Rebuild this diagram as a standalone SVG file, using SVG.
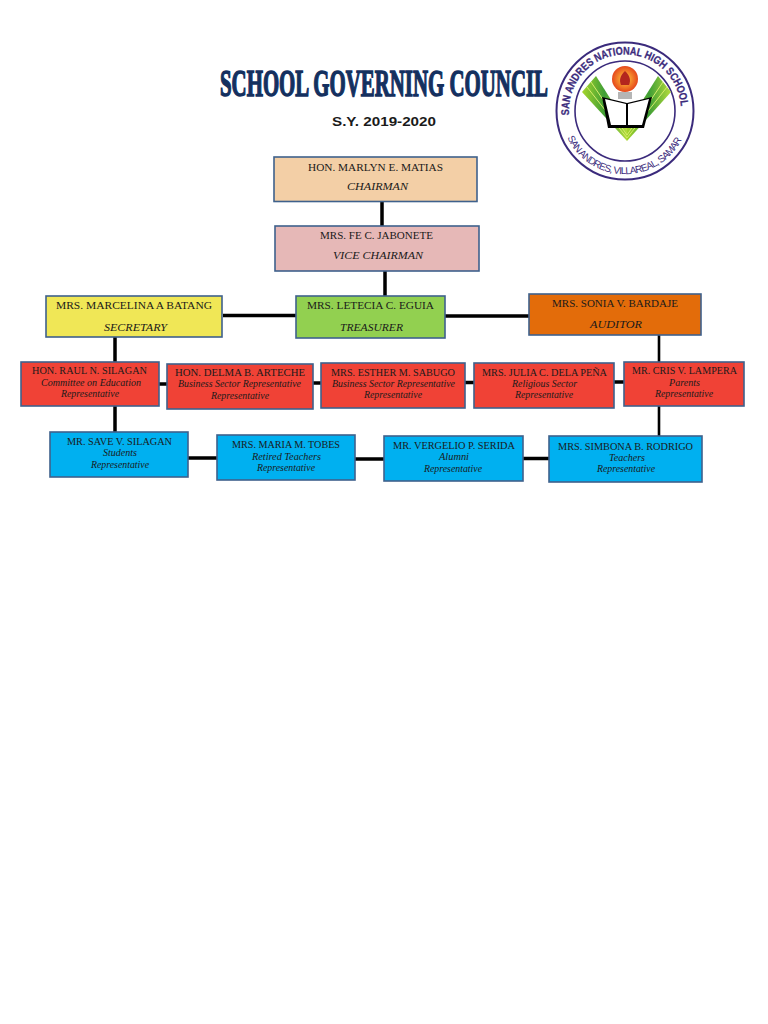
<svg xmlns="http://www.w3.org/2000/svg" width="768" height="1024" viewBox="0 0 768 1024">
<style>
text{font-family:"Liberation Serif","Times New Roman",serif;fill:#1a1a1a}
.box{stroke:#3f618c;stroke-width:1.6}
.n{font-size:11px}
.r{font-size:10.5px;font-style:italic}
.s{font-size:9.5px;font-style:italic}
.con{stroke:#000;fill:none}
.logoT{font-family:"Liberation Sans",Arial,sans-serif;fill:#3b2b7c}
</style>
<rect width="768" height="1024" fill="#fff"/>
<g id="title">
<text x="220" y="96" font-size="37" font-weight="700" textLength="328" lengthAdjust="spacingAndGlyphs" style="fill:#14305f;stroke:#14305f;stroke-width:1.5">SCHOOL GOVERNING COUNCIL</text>
<text x="332" y="126" font-size="13.500" font-weight="700" textLength="104" lengthAdjust="spacingAndGlyphs" style="font-family:'Liberation Sans',Arial,sans-serif">S.Y. 2019-2020</text>
</g>
<g id="logo">
<circle cx="625" cy="111" r="68.500" fill="#fff" stroke="#3b2b7c" stroke-width="2"/>
<circle cx="625" cy="111" r="50" fill="#fff" stroke="#3b2b7c" stroke-width="1.6"/>
<defs>
<path id="arcTop" d="M570,121 A56,56 0 1 1 680,121"/>
<path id="arcBot" d="M566,135 A64,64 0 0 0 684,135"/>
<linearGradient id="wl" x1="0" y1="0" x2="1" y2="0"><stop offset="0" stop-color="#a6d52c"/><stop offset=".5" stop-color="#3f9e35"/><stop offset="1" stop-color="#b5dc3c"/></linearGradient>
<radialGradient id="fl"><stop offset="0" stop-color="#fbd34a"/><stop offset=".55" stop-color="#f3852a"/><stop offset="1" stop-color="#e5471c"/></radialGradient>
</defs>
<text class="logoT" font-size="11" font-weight="700" style="stroke:#3b2b7c;stroke-width:.3"><textPath href="#arcTop" startOffset="6" textLength="176" lengthAdjust="spacingAndGlyphs">SAN ANDRES NATIONAL HIGH SCHOOL</textPath></text>
<text class="logoT" font-size="10"><textPath href="#arcBot" startOffset="3" textLength="142" lengthAdjust="spacing">SAN ANDRES, VILLAREAL, SAMAR</textPath></text>
<polygon points="596,76 582,92 627,141 627,125" fill="url(#wl)"/>
<polygon points="658,76 671,92 627,141 627,125" fill="url(#wl)"/>
<path d="M591,82 L627,135M587,87 L627,138M663,82 L627,135M667,87 L627,138" stroke="#d6ec6b" stroke-width="1" fill="none"/>
<circle cx="625" cy="79" r="13" fill="url(#fl)"/>
<path d="M625,71 C620,76 619,80 621,85 H629 C631,80 630,76 625,71Z" fill="#b3261e"/>
<rect x="618" y="92" width="14" height="7" fill="#b5b5b5"/>
<path d="M602,97 L627,103 L652,97 L644,128 H627 H608 Z" fill="#000"/>
<path d="M605,99 L626,104 V125 H611 Z" fill="#fff"/>
<path d="M649,99 L628,104 V125 H642 Z" fill="#fff"/>
</g>
<g id="connectors" class="con">
<path stroke-width="3.5" d="M382,201V226M385,271V296M223,315.500H296M445,316H529M115,337V362M115,406V432M159,384H167M313,383H321M465,382.500H474M614,382H624M188,458H217M355,459H384M523,458.500H549"/>
<path stroke-width="2.6" d="M659,335V362M659,406V436"/>
</g>
<g id="chairman"><rect class="box" x="274" y="157" width="203" height="44.500" fill="#f3cfa6"/>
<text class="n" x="308" y="171" textLength="135" lengthAdjust="spacingAndGlyphs">HON. MARLYN E. MATIAS</text>
<text class="r" x="347" y="190" textLength="61" lengthAdjust="spacingAndGlyphs">CHAIRMAN</text></g>
<g id="vice-chairman"><rect class="box" x="275" y="226" width="204" height="45" fill="#e6b8b7"/>
<text class="n" x="320" y="239" textLength="113" lengthAdjust="spacingAndGlyphs">MRS. FE C. JABONETE</text>
<text class="r" x="333" y="259" textLength="90" lengthAdjust="spacingAndGlyphs">VICE CHAIRMAN</text></g>
<g id="secretary"><rect class="box" x="46" y="296" width="176" height="41" fill="#f0e756"/>
<text class="n" x="56" y="309" textLength="156" lengthAdjust="spacingAndGlyphs">MRS. MARCELINA A BATANG</text>
<text class="r" x="104" y="331" textLength="63" lengthAdjust="spacingAndGlyphs">SECRETARY</text></g>
<g id="treasurer"><rect class="box" x="296" y="296" width="149" height="42" fill="#92d050"/>
<text class="n" x="307" y="309" textLength="127" lengthAdjust="spacingAndGlyphs">MRS. LETECIA C. EGUIA</text>
<text class="r" x="340" y="331" textLength="63" lengthAdjust="spacingAndGlyphs">TREASURER</text></g>
<g id="auditor"><rect class="box" x="529" y="294" width="172" height="41" fill="#e36c0a"/>
<text class="n" x="552" y="307" textLength="126" lengthAdjust="spacingAndGlyphs">MRS. SONIA V. BARDAJE</text>
<text class="r" x="590" y="328" textLength="52" lengthAdjust="spacingAndGlyphs">AUDITOR</text></g>
<g id="raul"><rect class="box" x="21" y="362" width="138" height="44" fill="#f04236"/>
<text class="n" x="32" y="374" textLength="115" lengthAdjust="spacingAndGlyphs">HON. RAUL N. SILAGAN</text>
<text class="s" x="41" y="386" textLength="100" lengthAdjust="spacingAndGlyphs">Committee on Education</text>
<text class="s" x="61" y="397" textLength="58" lengthAdjust="spacingAndGlyphs">Representative</text></g>
<g id="delma"><rect class="box" x="167" y="364" width="146" height="45" fill="#f04236"/>
<text class="n" x="175" y="376" textLength="130" lengthAdjust="spacingAndGlyphs">HON. DELMA B. ARTECHE</text>
<text class="s" x="178" y="387" textLength="123" lengthAdjust="spacingAndGlyphs">Business Sector Representative</text>
<text class="s" x="211" y="399" textLength="58" lengthAdjust="spacingAndGlyphs">Representative</text></g>
<g id="esther"><rect class="box" x="321" y="363" width="144" height="45" fill="#f04236"/>
<text class="n" x="331" y="376" textLength="124" lengthAdjust="spacingAndGlyphs">MRS. ESTHER M. SABUGO</text>
<text class="s" x="332" y="387" textLength="123" lengthAdjust="spacingAndGlyphs">Business Sector Representative</text>
<text class="s" x="364" y="398" textLength="58" lengthAdjust="spacingAndGlyphs">Representative</text></g>
<g id="julia"><rect class="box" x="474" y="363" width="140" height="45" fill="#f04236"/>
<text class="n" x="482" y="376" textLength="125" lengthAdjust="spacingAndGlyphs">MRS. JULIA C. DELA PEÑA</text>
<text class="s" x="512" y="387" textLength="65" lengthAdjust="spacingAndGlyphs">Religious Sector</text>
<text class="s" x="515" y="398" textLength="58" lengthAdjust="spacingAndGlyphs">Representative</text></g>
<g id="cris"><rect class="box" x="624" y="362" width="120" height="44" fill="#f04236"/>
<text class="n" x="632" y="374" textLength="105" lengthAdjust="spacingAndGlyphs">MR. CRIS V. LAMPERA</text>
<text class="s" x="669" y="386" textLength="31" lengthAdjust="spacingAndGlyphs">Parents</text>
<text class="s" x="655" y="397" textLength="58" lengthAdjust="spacingAndGlyphs">Representative</text></g>
<g id="save"><rect class="box" x="50" y="432" width="138" height="45" fill="#00b0f0"/>
<text class="n" x="67" y="445" textLength="105" lengthAdjust="spacingAndGlyphs">MR. SAVE V. SILAGAN</text>
<text class="s" x="103" y="456" textLength="34" lengthAdjust="spacingAndGlyphs">Students</text>
<text class="s" x="91" y="468" textLength="58" lengthAdjust="spacingAndGlyphs">Representative</text></g>
<g id="maria"><rect class="box" x="217" y="435" width="138" height="45" fill="#00b0f0"/>
<text class="n" x="232" y="448" textLength="108" lengthAdjust="spacingAndGlyphs">MRS. MARIA M. TOBES</text>
<text class="s" x="252" y="460" textLength="69" lengthAdjust="spacingAndGlyphs">Retired Teachers</text>
<text class="s" x="257" y="471" textLength="58" lengthAdjust="spacingAndGlyphs">Representative</text></g>
<g id="vergelio"><rect class="box" x="384" y="436" width="139" height="45" fill="#00b0f0"/>
<text class="n" x="393" y="449" textLength="122" lengthAdjust="spacingAndGlyphs">MR. VERGELIO P. SERIDA</text>
<text class="s" x="439" y="460" textLength="30" lengthAdjust="spacingAndGlyphs">Alumni</text>
<text class="s" x="424" y="472" textLength="58" lengthAdjust="spacingAndGlyphs">Representative</text></g>
<g id="simbona"><rect class="box" x="549" y="436" width="153" height="46" fill="#00b0f0"/>
<text class="n" x="558" y="450" textLength="135" lengthAdjust="spacingAndGlyphs">MRS. SIMBONA B. RODRIGO</text>
<text class="s" x="609" y="461" textLength="36" lengthAdjust="spacingAndGlyphs">Teachers</text>
<text class="s" x="597" y="472" textLength="58" lengthAdjust="spacingAndGlyphs">Representative</text></g>
</svg>
